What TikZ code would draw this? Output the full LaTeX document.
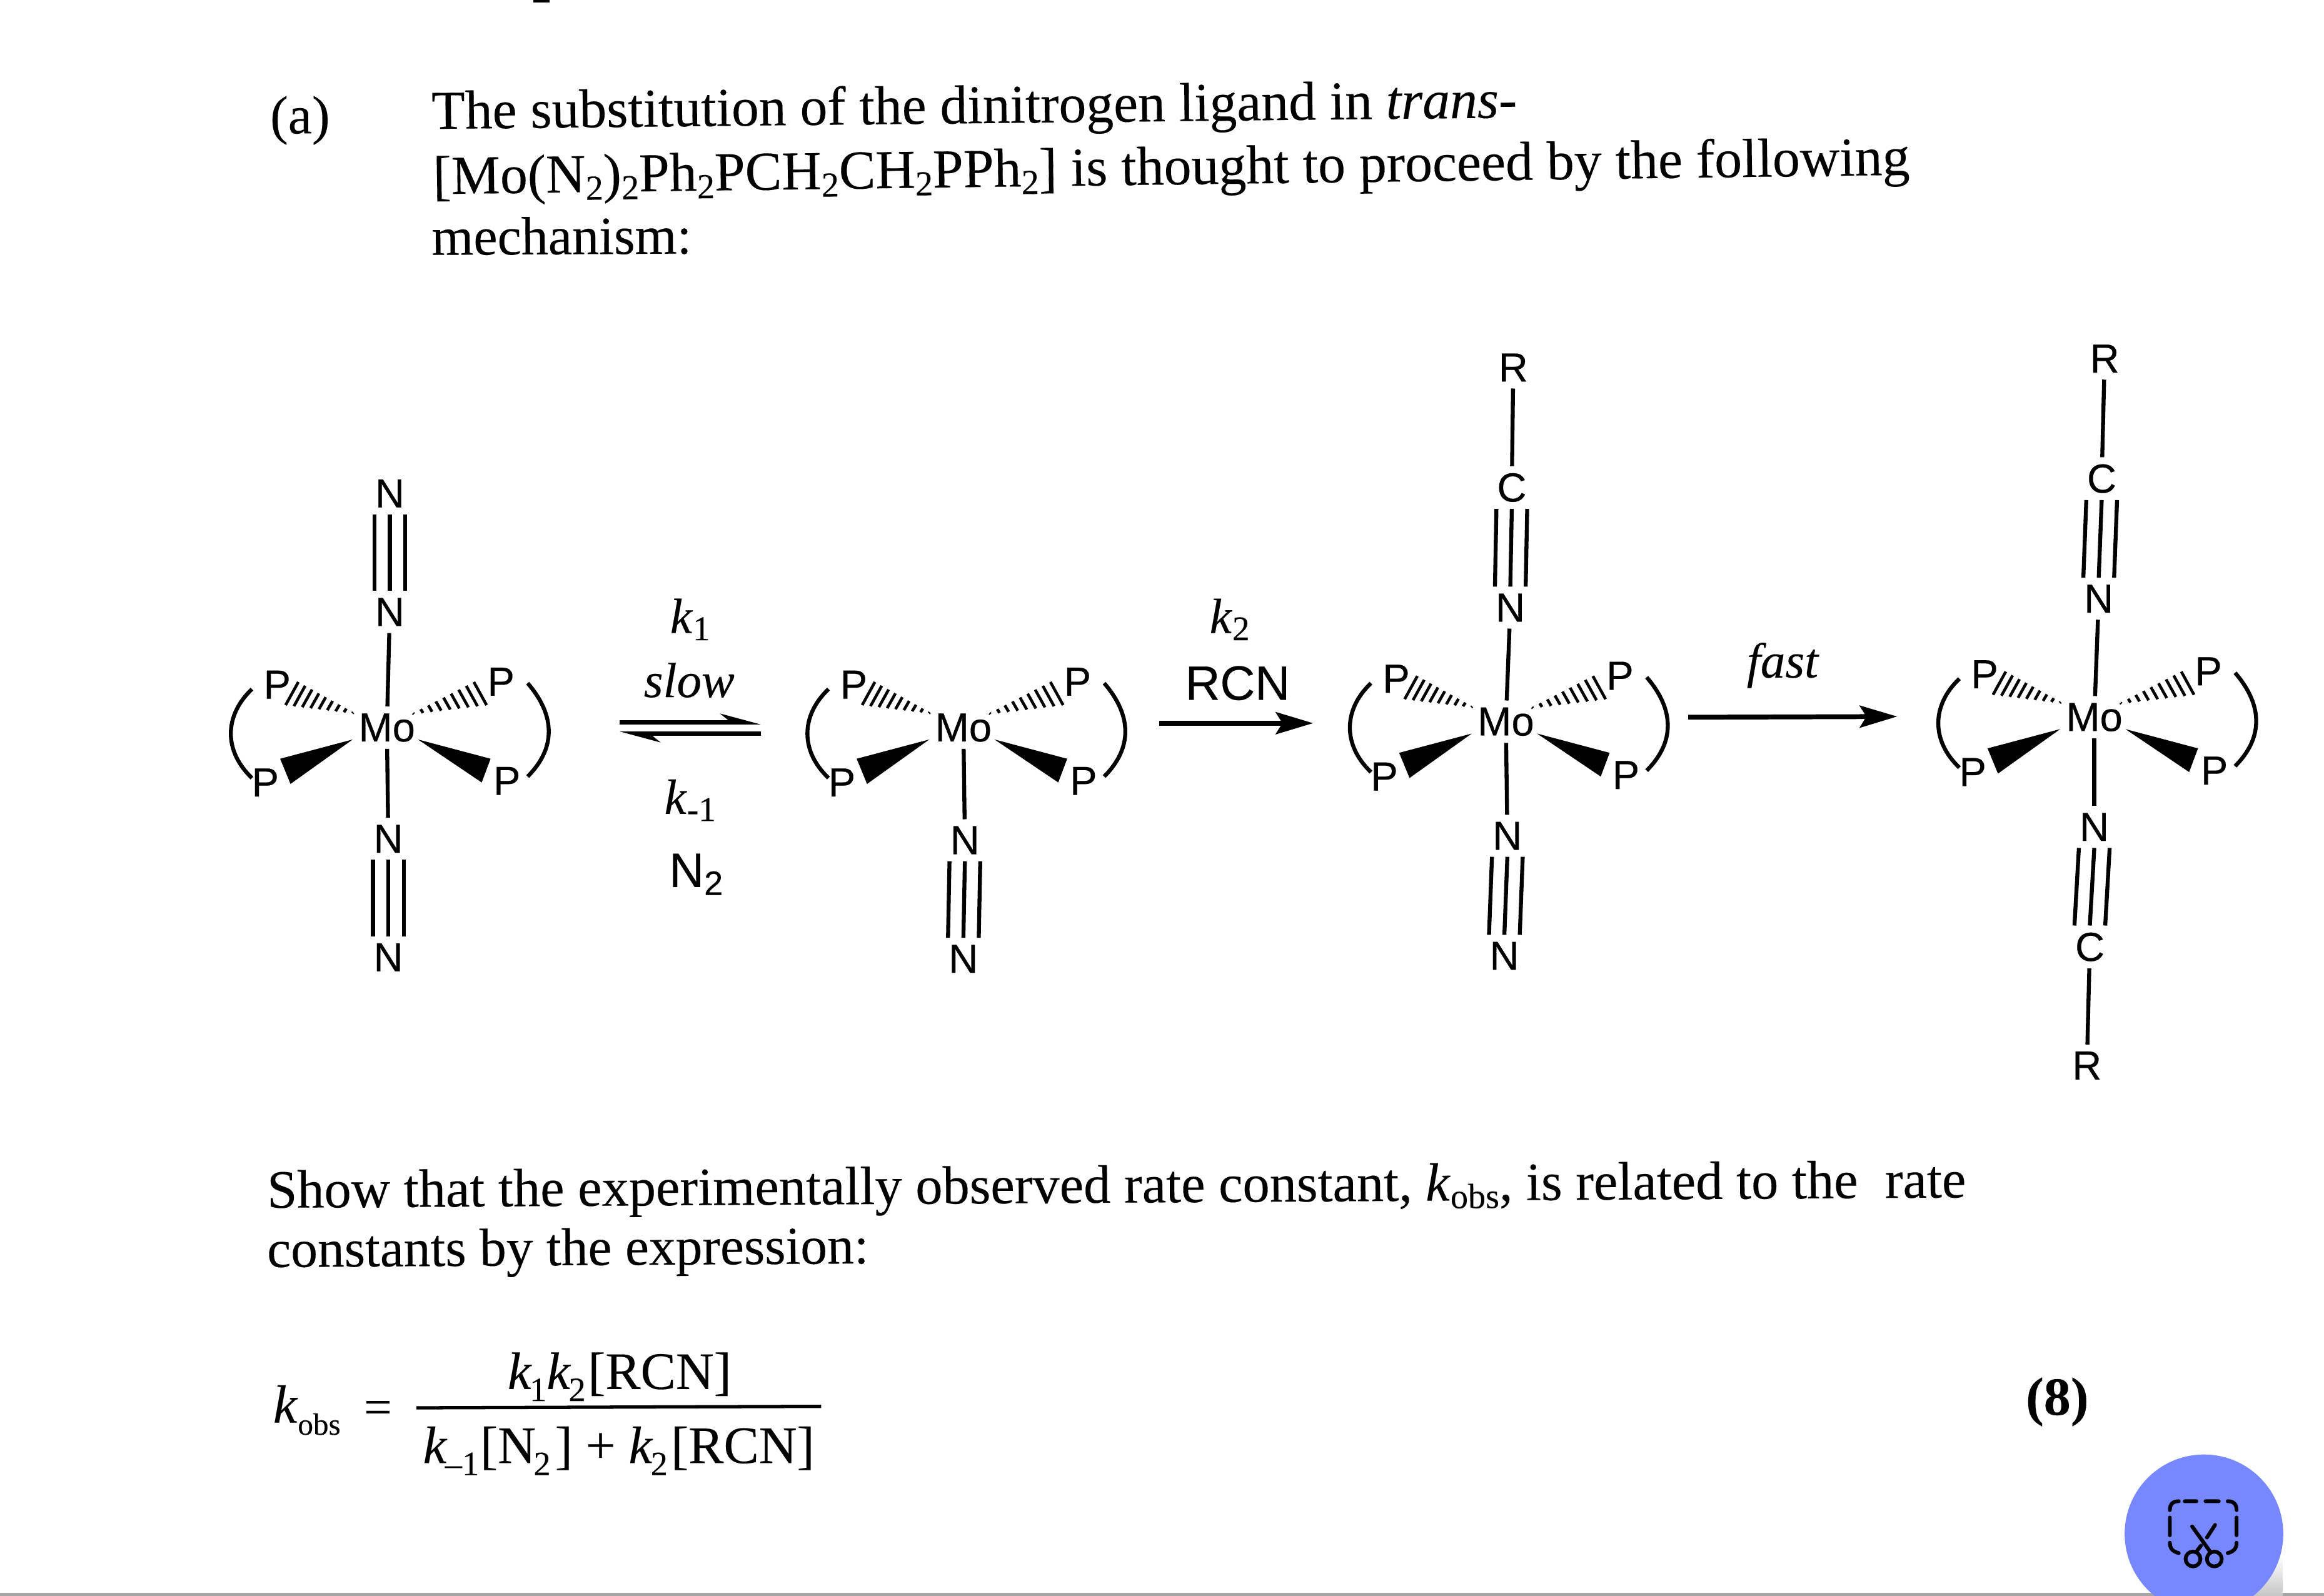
\documentclass[tikz,border=0pt]{standalone}
\usepackage{fontspec}
\setmainfont{Liberation Serif}[FakeBold=0.15]
\newfontfamily\atomfont{Liberation Sans}[FakeBold=0.3]
\usetikzlibrary{arrows.meta}
\definecolor{cutblue}{RGB}{118,135,255}

\tikzset{
    atom/.style={font=\atomfont\fontsize{18.5}{20}\selectfont, inner sep=3pt},
    body/.style={font=\fontsize{24.5}{29}\selectfont, inner sep=0pt, anchor=base west},
    rate/.style={font=\fontsize{22.5}{26}\selectfont, inner sep=0pt},
    big/.style={font=\fontsize{24}{29}\selectfont, inner sep=0pt},
    bond/.style={line width=1.8pt},
    flow/.style={line width=2.2pt, -{Stealth[length=17pt, width=10pt, inset=3pt]}}
}

% subscripts of the text lines and of the expression
\newcommand{\lsub}[1]{\raisebox{-3.5pt}{\fontsize{16}{18}\selectfont #1}}
\newcommand{\fsub}[1]{\kern-1pt\raisebox{-5.5pt}{\fontsize{15.5}{17}\selectfont #1}}

% Mo with its four P, the wedges, the hashes and the two brackets
\newcommand{\mocore}[3]{
    \begin{scope}[shift={(#2,#3)}]
        \node [atom] (#1Mo) at (0, 0) {Mo};
        \node [atom] (#1Pa) at (-74, -29) {P};
        \node [atom] (#1Pb) at (77, -31) {P};
        \node [atom] (#1Pc) at (-82, 37) {P};
        \node [atom] (#1Pd) at (81, 36) {P};
        \fill (-23, 8) -- (-72, 21) -- (-65, 38) -- cycle;
        \fill (21, 8) -- (70, 21) -- (64, 37) -- cycle;
        \foreach \t in {0,0.125,...,1} {
            \draw [line width=1.3pt] ({-23-41*\t+4*\t+0.3}, {-10-13*\t-7.5*\t-0.3}) -- ({-23-41*\t-4*\t-0.3}, {-10-13*\t+7.5*\t+0.3});
            \draw [line width=1.3pt] ({18+45*\t-4*\t-0.3}, {-9.5-13.5*\t-7.5*\t-0.3}) -- ({18+45*\t+4*\t+0.3}, {-9.5-13.5*\t+7.5*\t+0.3});
        }
        \draw [bond] (-91, -26) .. controls (-110, -8) and (-110, 16) .. (-91, 34);
        \draw [bond] (95, -30) .. controls (114, -8) and (114, 14) .. (95, 33);
    \end{scope}
}

% three strokes between two atoms
\newcommand{\triplebond}[2]{
    \foreach \s in {-7pt, 0pt, 7pt} {
        \draw [bond] ([xshift=\s]#1) -- ([xshift=\s]#2);
    }
}

\begin{document}
\begin{tikzpicture}[x=0.023705cm, y=-0.023705cm]
    \useasboundingbox (0, 0) rectangle (1568, 1076.6);
    \clip (0, 0) rectangle (1568, 1076.6);
    \fill [white] (0, 0) rectangle (1568, 1076.6);
    \fill (360, 0) rectangle (371, 1.8);

    % question text
    \node [body] (part) at (182, 90) {(a)};
    \node [body, rotate=0.6, font=\fontsize{24.95}{29}\selectfont] (lineA) at (291, 87) {The substitution of the dinitrogen ligand in \textit{trans}-};
    \node [body, rotate=0.75, font=\fontsize{25}{29}\selectfont] (lineB) at (292, 131) {[Mo(N\lsub{2})\lsub{2}Ph\lsub{2}PCH\lsub{2}CH\lsub{2}PPh\lsub{2}] is thought to proceed by the following};
    \node [body, rotate=0.3] (lineC) at (291, 172) {mechanism:};
    \node [body, rotate=0.35, font=\fontsize{24.6}{29}\selectfont] (lineD) at (180, 815) {Show that the experimentally observed rate constant, \textit{k}\lsub{obs}, is related to the\ \ rate};
    \node [body, rotate=0.35, font=\fontsize{24.35}{29}\selectfont] (lineE) at (180, 855) {constants by the expression:};

    % first complex
    \mocore{a}{261}{491}
    \node [atom] (aNa) at (263, 333) {N};
    \node [atom] (aNb) at (263, 413) {N};
    \node [atom] (aNc) at (262, 566) {N};
    \node [atom] (aNd) at (262, 646) {N};
    \triplebond{aNa.south}{aNb.north}
    \draw [bond] (aNb) -- (aMo);
    \draw [bond] (aMo) -- (aNc);
    \triplebond{aNc.south}{aNd.north}

    % second complex
    \mocore{b}{650}{491}
    \node [atom] (bNa) at (651, 567) {N};
    \node [atom] (bNb) at (650, 647) {N};
    \draw [bond] (bMo) -- (bNa);
    \triplebond{bNa.south}{bNb.north}

    % third complex
    \mocore{c}{1016}{487}
    \node [atom] (cR) at (1021, 248) {R};
    \node [atom] (cC) at (1020, 329) {C};
    \node [atom] (cNa) at (1019, 410) {N};
    \node [atom] (cNb) at (1017, 564) {N};
    \node [atom] (cNc) at (1015, 645) {N};
    \draw [bond] (cR) -- (cC);
    \triplebond{cC.south}{cNa.north}
    \draw [bond] (cNa) -- (cMo);
    \draw [bond] (cMo) -- (cNb);
    \triplebond{cNb.south}{cNc.north}

    % fourth complex
    \mocore{d}{1413}{484}
    \node [atom] (dRa) at (1420, 242) {R};
    \node [atom] (dCa) at (1418, 323) {C};
    \node [atom] (dNa) at (1416, 404) {N};
    \node [atom] (dNb) at (1413, 558) {N};
    \node [atom] (dCb) at (1410, 639) {C};
    \node [atom] (dRb) at (1408, 719) {R};
    \draw [bond] (dRa) -- (dCa);
    \triplebond{dCa.south}{dNa.north}
    \draw [bond] (dNa) -- (dMo);
    \draw [bond] (dMo) -- (dNb);
    \triplebond{dNb.south}{dCb.north}
    \draw [bond] (dCb) -- (dRb);

    % arrows and their labels
    \coordinate (eqL) at (418, 487.5);
    \coordinate (eqR) at (513.5, 487.5);
    \coordinate (eqS) at (513.5, 495);
    \coordinate (eqT) at (418, 495);
    \draw [line width=1.9pt, -{Stealth[harpoon, length=15pt, width=8pt]}] (eqL) -- (eqR);
    \draw [line width=1.9pt, -{Stealth[harpoon, length=15pt, width=8pt]}] (eqS) -- (eqT);
    \coordinate (stepL) at (782, 488);
    \coordinate (stepR) at (886, 488);
    \draw [flow] (stepL) -- (stepR);
    \coordinate (fastL) at (1139, 484);
    \coordinate (fastR) at (1280, 483.5);
    \draw [flow] (fastL) -- (fastR);

    \node [rate] (kOne) at (466, 418) {\textit{k}\textsubscript{1}};
    \node [rate] (slow) at (465, 459) {\textit{slow}};
    \node [rate] (kBack) at (466, 540) {\textit{k}\textsubscript{-1}};
    \node [atom, inner sep=0pt, font=\atomfont\fontsize{22}{26}\selectfont] (lostN) at (470, 590) {N\textsubscript{2}};
    \node [rate] (kTwo) at (830, 418) {\textit{k}\textsubscript{2}};
    \node [atom, inner sep=0pt, font=\atomfont\fontsize{22}{26}\selectfont] (rcn) at (835, 461) {RCN};
    \node [rate] (fast) at (1203, 449) {\textit{fast}};

    % rate expression
    \node [body] (kObs) at (184, 960) {\textit{k}\raisebox{-5.5pt}{\fontsize{14}{16}\selectfont obs}};
    \node [rate] (equal) at (255, 953) {=};
    \node [big] (upper) at (418, 929) {\textit{k}\fsub{1}\textit{k}\fsub{2}\kern1pt[RCN]};
    \node [big] (lower) at (417.5, 979) {\textit{k}\fsub{\textendash1}\kern0.5pt[N\fsub{2}\kern2pt] + \textit{k}\fsub{2}\kern1.5pt[RCN]};
    \coordinate (barL) at (281, 950);
    \coordinate (barR) at (554, 949);
    \draw [line width=1.5pt] (barL) -- (barR);
    \node [rate, font=\fontsize{24.5}{29}\selectfont\bfseries] (number) at (1388, 946) {(8)};

    % window edge and the round button
    \fill [gray!70] (0, 1075) rectangle (1568, 1077);
    \shade [top color=white, bottom color=gray!45] (1487, 1050) rectangle (1540, 1077);
    \fill [cutblue] (1487, 1035) circle [radius=53.5];
    \draw [line width=1.7pt, line cap=round]
        (1464, 1019) .. controls (1464, 1015) and (1466, 1013) .. (1470, 1013)
        (1474, 1013) -- (1482, 1013)
        (1488, 1013) -- (1497, 1013)
        (1503, 1013) .. controls (1507, 1013) and (1509, 1015) .. (1509, 1019)
        (1464, 1024) -- (1464, 1036)
        (1509, 1024) -- (1509, 1036)
        (1464, 1041) .. controls (1464, 1045) and (1466, 1047) .. (1470, 1048)
        (1509, 1041) .. controls (1509, 1045) and (1507, 1047) .. (1503, 1048)
        (1479, 1030) -- (1491.5, 1047.5)
        (1494.5, 1029) -- (1489, 1037.5)
        (1485, 1043) -- (1481.5, 1047.5);
    \draw [line width=1.7pt] (1479.6, 1052) circle [radius=5] (1494, 1052) circle [radius=5];
\end{tikzpicture}
\end{document}
